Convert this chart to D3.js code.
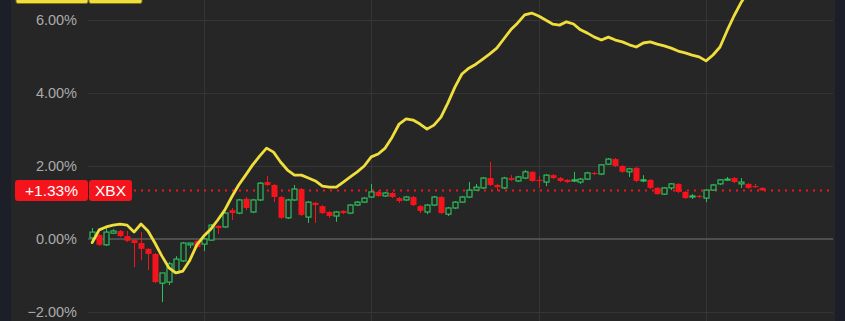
<!DOCTYPE html>
<html>
<head>
<meta charset="utf-8">
<script src="https://cdn.jsdelivr.net/npm/d3@7"></script>
<style>
  html, body { margin: 0; padding: 0; background: #1d1f28; }
  svg { display: block; }
</style>
</head>
<body>
<svg id="chart" width="845" height="321"></svg>
<script>
// ---------- DATA ----------
const yTicks = [-2, 0, 2, 4, 6];
const monthGridIdx = [16, 40, 64, 88];
const seriesName = "XBX";

const open = [0.03,0.11,-0.16,0.16,0.22,0.08,-0.03,-0.11,-0.27,-0.41,-1.21,-1.18,-0.93,-0.60,-0.16,-0.05,-0.14,-0.03,0.36,0.33,
0.79,0.71,1.10,0.74,1.07,1.56,1.48,1.15,0.58,1.07,1.37,0.60,0.99,0.90,0.74,0.63,0.77,0.71,0.93,1.01,
1.15,1.29,1.18,1.26,1.12,1.07,1.15,0.90,0.74,0.93,1.15,0.68,0.85,1.01,1.15,1.34,1.40,1.67,1.48,1.40,
1.67,1.59,1.67,1.84,1.62,1.56,1.75,1.67,1.62,1.59,1.56,1.64,1.81,1.78,2.05,2.19,2.00,1.84,1.95,1.59,
1.62,1.40,1.23,1.40,1.51,1.29,1.15,1.18,1.12,1.34,1.51,1.62,1.67,1.51,1.51,1.45,1.40];
const high = [0.30,0.14,0.33,0.27,0.25,0.22,0.00,0.19,-0.25,-0.38,-0.93,-0.63,-0.47,-0.08,-0.11,-0.03,0.03,0.41,0.38,0.74,
0.85,1.10,1.15,1.10,1.56,1.73,1.51,1.18,1.10,1.48,1.40,1.04,1.01,0.93,0.77,0.77,0.79,0.96,1.04,1.15,
1.51,1.32,1.29,1.29,1.15,1.18,1.18,0.93,0.96,1.18,1.18,0.88,1.04,1.18,1.56,1.51,1.70,2.11,1.51,1.70,
1.75,1.73,1.89,1.86,1.73,1.78,1.78,1.70,1.64,1.84,1.67,1.84,1.84,2.05,2.22,2.22,2.03,1.95,1.97,1.75,
1.64,1.42,1.42,1.53,1.53,1.32,1.23,1.21,1.37,1.51,1.64,1.70,1.70,1.67,1.53,1.51,1.42];
const low = [-0.03,-0.19,-0.19,0.14,0.05,-0.08,-0.77,-0.58,-0.85,-1.21,-1.73,-1.26,-0.96,-0.63,-0.25,-0.25,-0.33,-0.05,0.14,0.30,
0.52,0.68,0.79,0.71,1.04,1.45,1.01,0.55,0.55,1.04,0.63,0.44,0.44,0.68,0.58,0.47,0.68,0.68,0.90,0.99,
1.12,1.15,1.15,1.12,0.99,1.04,0.90,0.71,0.68,0.90,0.68,0.63,0.82,0.99,1.12,1.32,1.37,1.45,1.32,1.37,
1.59,1.56,1.64,1.56,1.40,1.45,1.64,1.56,1.53,1.56,1.51,1.62,1.75,1.75,2.03,1.97,1.81,1.70,1.56,1.56,
1.37,1.21,1.21,1.34,1.26,1.10,1.10,1.12,1.01,1.32,1.48,1.59,1.53,1.40,1.37,1.40,1.32];
const close = [0.19,-0.16,0.19,0.22,0.08,-0.05,-0.11,-0.27,-0.41,-1.18,-0.93,-0.68,-0.55,-0.11,-0.11,-0.22,0.00,0.38,0.30,0.71,
0.71,1.07,0.85,1.07,1.53,1.48,1.15,0.58,1.07,1.37,0.66,1.01,0.93,0.71,0.63,0.74,0.71,0.93,1.01,1.12,
1.29,1.18,1.26,1.15,1.04,1.15,0.93,0.77,0.93,1.15,0.71,0.85,1.01,1.15,1.34,1.42,1.67,1.48,1.42,1.67,
1.62,1.70,1.84,1.59,1.59,1.75,1.67,1.59,1.56,1.62,1.64,1.81,1.78,2.03,2.19,2.00,1.84,1.92,1.59,1.62,
1.40,1.23,1.40,1.51,1.29,1.12,1.18,1.15,1.34,1.48,1.62,1.64,1.56,1.56,1.40,1.42,1.33];
// comparison series (yellow line), % change
const compare = [-0.10,0.25,0.33,0.38,0.41,0.38,0.19,0.41,0.22,-0.11,-0.47,-0.79,-0.93,-0.88,-0.58,-0.16,0.08,0.27,0.52,0.79,
1.15,1.48,1.75,2.03,2.27,2.49,2.38,2.11,1.89,1.75,1.75,1.67,1.59,1.45,1.42,1.42,1.56,1.70,1.84,2.00,
2.25,2.33,2.49,2.79,3.15,3.29,3.26,3.15,3.01,3.12,3.34,3.73,4.16,4.52,4.68,4.79,4.93,5.07,5.23,5.48,
5.73,5.92,6.14,6.19,6.11,6.00,5.89,5.86,5.95,5.89,5.73,5.64,5.53,5.45,5.53,5.45,5.40,5.32,5.26,5.37,
5.40,5.34,5.29,5.23,5.15,5.10,5.04,4.99,4.88,5.04,5.26,5.70,6.11,6.47,6.77,7.04,7.23];

// ---------- STYLE ----------
const W = 845, H = 321;
const BG = "#262626", FRAME = "#1d1f28";
const GREEN = "#2cbf5c", RED = "#f5141c", YELLOW = "#f0de3c";
const GRID = "#353535", ZERO = "#5c5c5c", LABEL = "#ababab";
const FONT = "Liberation Sans, Arial, sans-serif";
const plotL = 88, plotR = 833;

const svg = d3.select("#chart");
svg.append("rect").attr("width", W).attr("height", H).attr("fill", FRAME);
svg.append("rect").attr("x", 11).attr("y", 0).attr("width", 824).attr("height", H).attr("fill", BG);

const x = d3.scaleLinear().domain([-0.6, 106.2]).range([plotL, plotR]);
const y = d3.scaleLinear().domain([-2, 6]).range([312, 20]);

// grid
const g = svg.append("g");
g.selectAll("line.h").data(yTicks.filter(t => t !== 0)).join("line")
  .attr("x1", plotL).attr("x2", plotR)
  .attr("y1", d => Math.round(y(d)) + 0.5).attr("y2", d => Math.round(y(d)) + 0.5)
  .attr("stroke", GRID).attr("stroke-width", 1);
g.selectAll("line.v").data(monthGridIdx).join("line")
  .attr("x1", d => Math.round(x(d)) + 0.5).attr("x2", d => Math.round(x(d)) + 0.5)
  .attr("y1", 0).attr("y2", H)
  .attr("stroke", GRID).attr("stroke-width", 1);
g.append("line").attr("x1", plotL).attr("x2", plotR)
  .attr("y1", y(0)).attr("y2", y(0)).attr("stroke", ZERO).attr("stroke-width", 1.5);

// y axis labels
svg.append("g").selectAll("text").data(yTicks).join("text")
  .attr("x", 77).attr("y", d => y(d)).attr("dy", "0.36em")
  .attr("text-anchor", "end")
  .attr("font-family", FONT).attr("font-size", 14.5)
  .attr("fill", LABEL)
  .text(d => (d < 0 ? "\u2212" + Math.abs(d).toFixed(2) : d.toFixed(2)) + "%");

// last price dotted line
const last = close[close.length - 1];
svg.append("line").attr("x1", 134).attr("x2", plotR)
  .attr("y1", y(last)).attr("y2", y(last))
  .attr("stroke", RED).attr("stroke-width", 2).attr("stroke-dasharray", "2,5");

// candles
const candles = open.map((o, i) => ({ i, o, h: high[i], l: low[i], c: close[i] }));
const cg = svg.append("g");
const bw = 5;
candles.forEach(d => {
  const up = d.c >= d.o;
  const col = up ? GREEN : RED;
  const cx = Math.round(x(d.i)) + 0.5;
  cg.append("line").attr("x1", cx).attr("x2", cx)
    .attr("y1", y(d.h)).attr("y2", y(d.l)).attr("stroke", col).attr("stroke-width", 1);
  const top = y(Math.max(d.o, d.c)), bot = y(Math.min(d.o, d.c));
  const hgt = Math.max(1, bot - top);
  if (up) {
    cg.append("rect").attr("x", cx - 2.5).attr("y", top).attr("width", bw).attr("height", hgt)
      .attr("fill", BG).attr("stroke", col).attr("stroke-width", 1.2);
  } else {
    cg.append("rect").attr("x", cx - 3).attr("y", top).attr("width", bw + 1).attr("height", hgt)
      .attr("fill", col);
  }
});

// comparison line
svg.append("path").datum(compare)
  .attr("d", d3.line().x((d, i) => x(i)).y(d => y(d)))
  .attr("fill", "none").attr("stroke", YELLOW).attr("stroke-width", 2.8)
  .attr("stroke-linejoin", "round").attr("stroke-linecap", "round");

// last-value labels
const lab = svg.append("g").attr("font-family", FONT).attr("font-size", 15.5);
const ly = y(last);
lab.append("rect").attr("x", 15).attr("y", ly - 10.5).attr("width", 73).attr("height", 21).attr("rx", 3).attr("fill", RED);
lab.append("rect").attr("x", 89).attr("y", ly - 10.5).attr("width", 43).attr("height", 21).attr("rx", 3).attr("fill", RED);
lab.append("text").attr("x", 51.5).attr("y", ly).attr("dy", "0.36em").attr("text-anchor", "middle")
  .attr("fill", "#fff").text((last >= 0 ? "+" : "") + last.toFixed(2) + "%");
lab.append("text").attr("x", 110.5).attr("y", ly).attr("dy", "0.36em").attr("text-anchor", "middle")
  .attr("fill", "#fff").text(seriesName);

// comparison series label (clamped near the top edge, mostly hidden)
const lastCmp = compare[compare.length - 1];
const cy = Math.max(y(lastCmp), -7);
lab.append("rect").attr("x", 16).attr("y", cy - 10).attr("width", 72).attr("height", 20.5).attr("rx", 2)
  .attr("fill", YELLOW).attr("stroke", "#7d7118").attr("stroke-width", 1);
lab.append("rect").attr("x", 89).attr("y", cy - 10).attr("width", 53).attr("height", 20.5).attr("rx", 2)
  .attr("fill", YELLOW).attr("stroke", "#7d7118").attr("stroke-width", 1);
</script>
</body>
</html>
